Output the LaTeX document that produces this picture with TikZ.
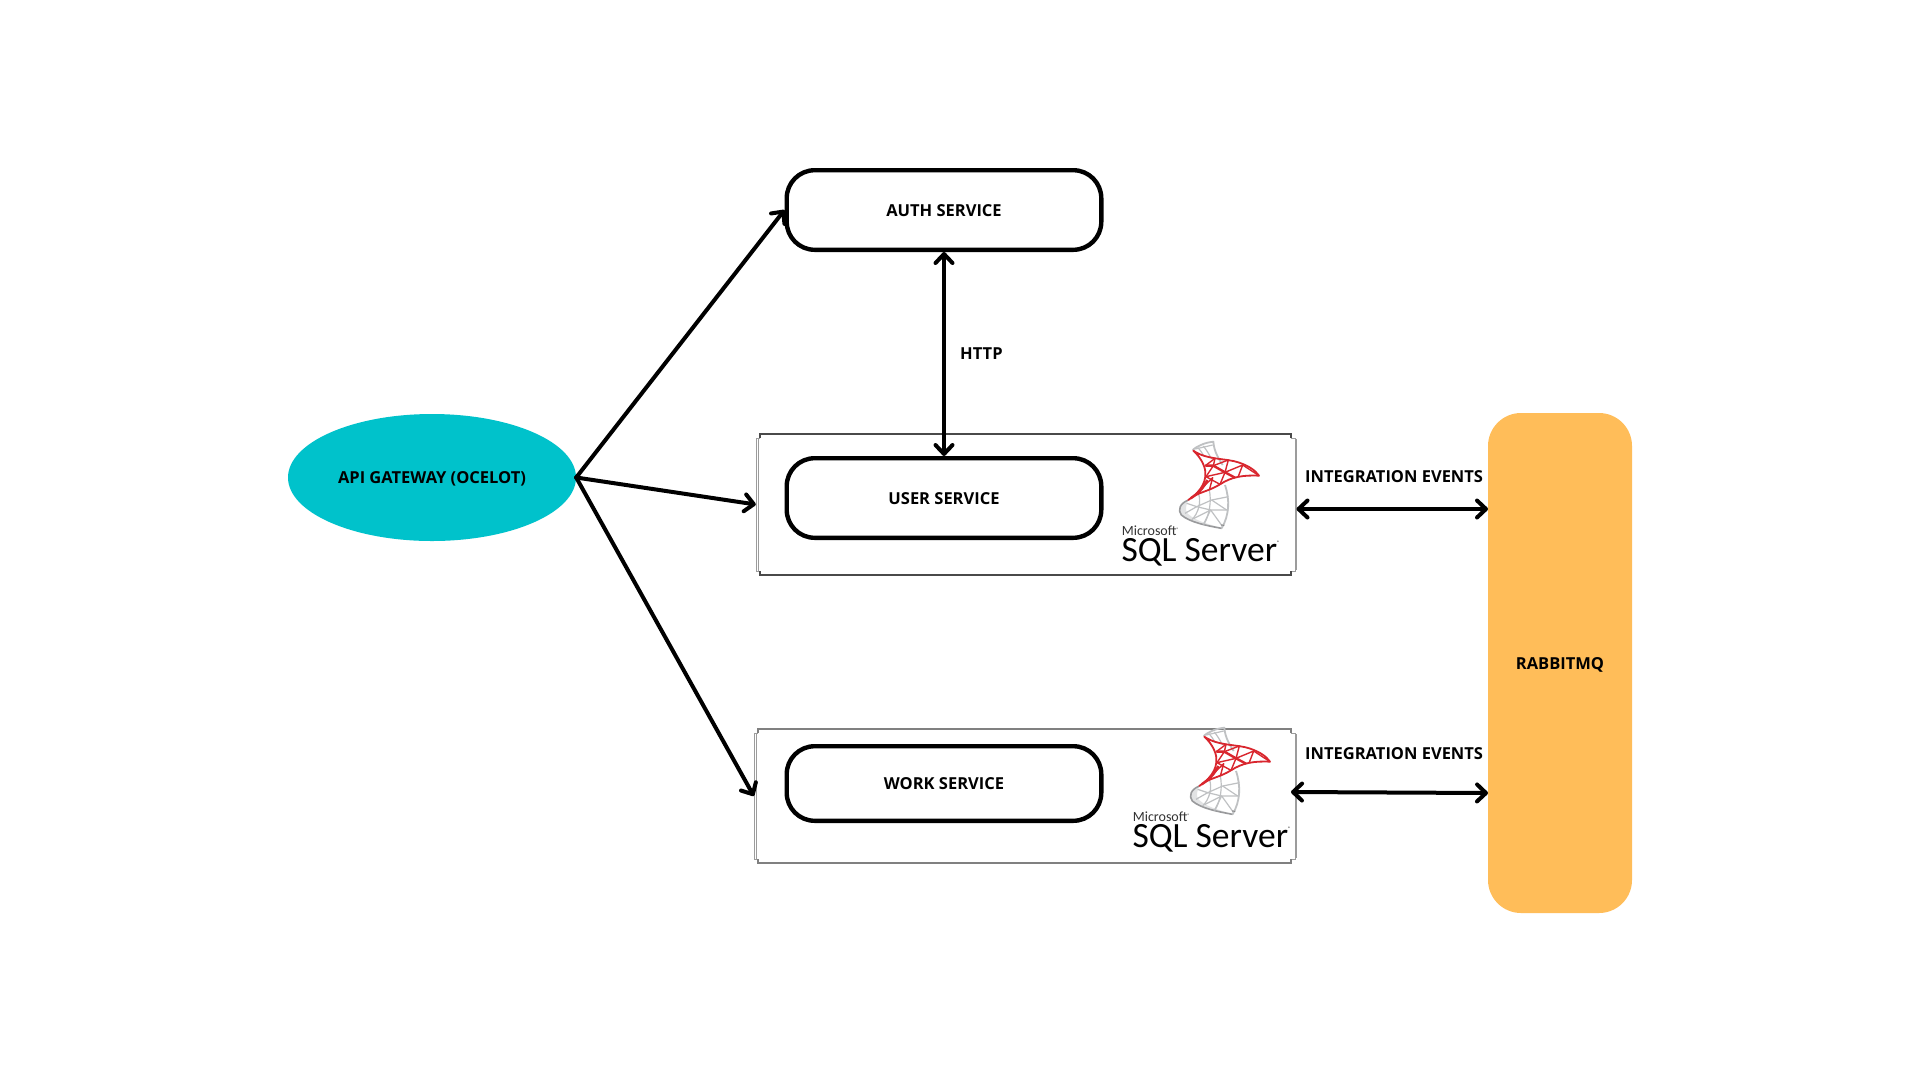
\documentclass[tikz,border=0pt]{standalone}
\usepackage{fontspec}
\setmainfont{Open Sans}
\newfontfamily\logofont{Carlito}
\usetikzlibrary{arrows.meta,shapes.geometric}
\definecolor{teal}{HTML}{00C2CB}
\definecolor{amber}{HTML}{FFBD59}
\definecolor{sqlred}{HTML}{D9262E}
\definecolor{sqlgrey}{HTML}{BFC1C3}
\definecolor{framedark}{HTML}{4A4A4A}
\definecolor{framepale}{HTML}{9C9C9C}
\tikzset{
  lab/.style={text=black, font=\fontsize{16.5}{20}\selectfont\bfseries, inner sep=0pt},
  mid/.style={lab, text height=12pt, text depth=0pt},
  service/.style={mid, draw=black, line width=4.4pt, rounded corners=28pt, fill=white,
    minimum width=314.6pt},
  box/.style={rectangle, inner sep=0pt},
  link/.style={draw=black, line width=4pt, line cap=round,
    arrows={Straight Barb[round,length=9pt,width=17pt]-Straight Barb[round,length=9pt,width=17pt]}},
  oneway/.style={draw=black, line width=4pt, line cap=round,
    -{Straight Barb[round,length=9pt,width=17pt]}},
  frameline/.style={line width=1.3pt},
  paleline/.style={draw=framepale, line width=1pt},
  redmesh/.style={draw=sqlred, line width=1.4pt, line join=round},
  greymesh/.style={draw=sqlgrey, line width=1.2pt, line join=round},
  sqllogo/.pic={
    % grey lower and back part of the swirl
    \draw[greymesh, line width=1.8pt] (68,45) .. controls (85,30) and (110,22) .. (130,20)
      .. controls (132,50) and (148,75) .. (158,90);
    \draw[greymesh] (100,33) .. controls (110,45) and (118,60) .. (125,72);
    \draw[greymesh] (84,38) .. controls (92,48) and (98,55) .. (102,64);
    \draw[greymesh] (76,42) -- (128,30);
    \fill[sqlgrey!45] (55,195) .. controls (30,205) and (22,225) .. (34,240)
      .. controls (60,262) and (110,272) .. (155,280)
      .. controls (130,270) and (80,262) .. (52,235)
      .. controls (45,225) and (48,208) .. (55,195) -- cycle;
    \draw[draw=sqlgrey!80!black, line width=1.6pt] (55,195) .. controls (30,205) and (22,225) .. (34,240)
      .. controls (60,262) and (110,272) .. (155,280);
    \draw[greymesh, line width=1.8pt] (165,150) .. controls (180,195) and (178,240) .. (155,280);
    \draw[greymesh] (118,165) .. controls (125,200) and (118,240) .. (102,268);
    \draw[greymesh] (85,175) .. controls (95,200) and (85,235) .. (65,255);
    \draw[greymesh] (45,235) -- (80,215) -- (125,195) -- (175,185);
    \draw[greymesh] (72,250) -- (122,225) -- (175,225);
    \draw[greymesh] (50,205) -- (80,215) -- (122,225) -- (158,275);
    \draw[greymesh] (125,195) -- (170,225);
    \draw[greymesh] (100,268) -- (122,225);
    % red ribbon
    \draw[redmesh, line width=1.8pt] (70,47) .. controls (110,75) and (170,70) .. (205,82)
      .. controls (235,92) and (255,105) .. (267,122)
      .. controls (220,120) and (185,125) .. (150,148)
      .. controls (115,170) and (80,172) .. (55,195)
      .. controls (80,178) and (110,150) .. (106,110)
      .. controls (104,90) and (90,65) .. (70,47) -- cycle;
    \draw[redmesh, line width=2.4pt] (106,92) -- (130,92) -- (165,112) -- (195,128);
    \draw[redmesh] (106,92) -- (135,70);
    \draw[redmesh] (130,92) -- (135,70);
    \draw[redmesh] (130,92) -- (175,75) -- (165,112) -- (218,90) -- (205,124);
    \draw[redmesh] (218,90) -- (267,122);
    \draw[redmesh] (108,125) -- (130,92);
    \draw[redmesh] (108,125) -- (165,112);
    \draw[redmesh] (108,125) -- (150,148);
    \draw[redmesh] (165,112) -- (150,148);
    \draw[redmesh] (90,165) -- (128,128) -- (118,165);
    \draw[redmesh, line width=2.4pt] (62,190) .. controls (85,175) and (100,160) .. (112,135);
    % word mark
    \node[anchor=base west, inner sep=0pt, text=black!80, font=\logofont\fontsize{14}{14}\selectfont] (ms) at (-145,300) {Microsoft\raisebox{4pt}{\fontsize{5}{5}\selectfont ®}};
    \node[anchor=base west, inner sep=0pt, text=black, font=\logofont\fontsize{35.5}{36}\selectfont] (sql) at (-146,380) {SQL Server\raisebox{17pt}{\fontsize{5}{5}\selectfont ®}};
    \node[anchor=base west, inner sep=0pt, text=black!70, font=\logofont\fontsize{5}{5}\selectfont] (tm) at (153,281) {™};
  },
}
\begin{document}
\begin{tikzpicture}[x=1pt,y=-1pt]
  \useasboundingbox[fill=white] (0,0) rectangle (1920,1080);

  % nodes
  \node[mid, ellipse, fill=teal, minimum width=288pt, minimum height=127pt] (gw) at (432,477.5) {API GATEWAY (OCELOT)};
  \node[mid, rectangle, fill=amber, rounded corners=33pt, minimum width=144pt, minimum height=500pt] (mq) at (1560,663) {RABBITMQ};

  \node[box, minimum width=539pt, minimum height=141pt] (userbox) at (1025.5,504.5) {};
  \node[box, minimum width=541pt, minimum height=134pt] (workbox) at (1024.5,796) {};

  \node[service, minimum height=79.6pt] (auth) at (944,210) {AUTH SERVICE};
  \node[service, minimum height=79.6pt] (user) at (944,498) {USER SERVICE};
  \node[service, minimum height=74.6pt] (work) at (944,783.5) {WORK SERVICE};

  % the thin frames round the two service boxes
  \foreach \l/\t/\r/\b/\c in {756/434/1295/575/framedark, 754/729/1295/863/framedark!70} {
    \draw[paleline] (\l+4,\t+4) -- (\l,\t+4) -- (\l,\b-4) -- (\l+4,\b-4);
    \draw[paleline] (\l+2.5,\t+4) -- (\l+2.5,\b-4);
    \draw[paleline] (\r-4,\t+4) -- (\r,\t+4) -- (\r,\b-4) -- (\r-4,\b-4);
    \draw[paleline] (\r+1.5,\t+5) -- (\r+1.5,\b-5);
    \draw[frameline, draw=\c] (\l+4,\t+4) -- (\l+4,\t) -- (\r-4,\t) -- (\r-4,\t+4);
    \draw[frameline, draw=\c] (\l+4,\b-4) -- (\l+4,\b) -- (\r-4,\b) -- (\r-4,\b-4);
  }

  \pic (ulogo) [scale=1/3] at (1170,435) {sqllogo};
  \pic (wlogo) [scale=1/3] at (1181,721) {sqllogo};

  % free ends of the event links
  \coordinate (ue) at (1296.5,509);
  \coordinate (umq) at (1488,509);
  \coordinate (we) at (1291,792);
  \coordinate (wmq) at (1488,793);

  % connectors
  \draw[oneway] (gw.east) -- (auth.west);
  \draw[oneway] (gw.east) -- (userbox.west);
  \draw[oneway] (gw.east) -- (workbox.west);
  \draw[link] (auth.south) -- (user.north);
  \draw[link] (ue) -- (umq);
  \draw[link] (we) -- (wmq);

  % labels
  \node[lab, anchor=base west] (http) at (960,359) {HTTP};
  \node[lab, anchor=base west] (ev1) at (1305,482) {INTEGRATION EVENTS};
  \node[lab, anchor=base west] (ev2) at (1305,759) {INTEGRATION EVENTS};
\end{tikzpicture}
\end{document}
